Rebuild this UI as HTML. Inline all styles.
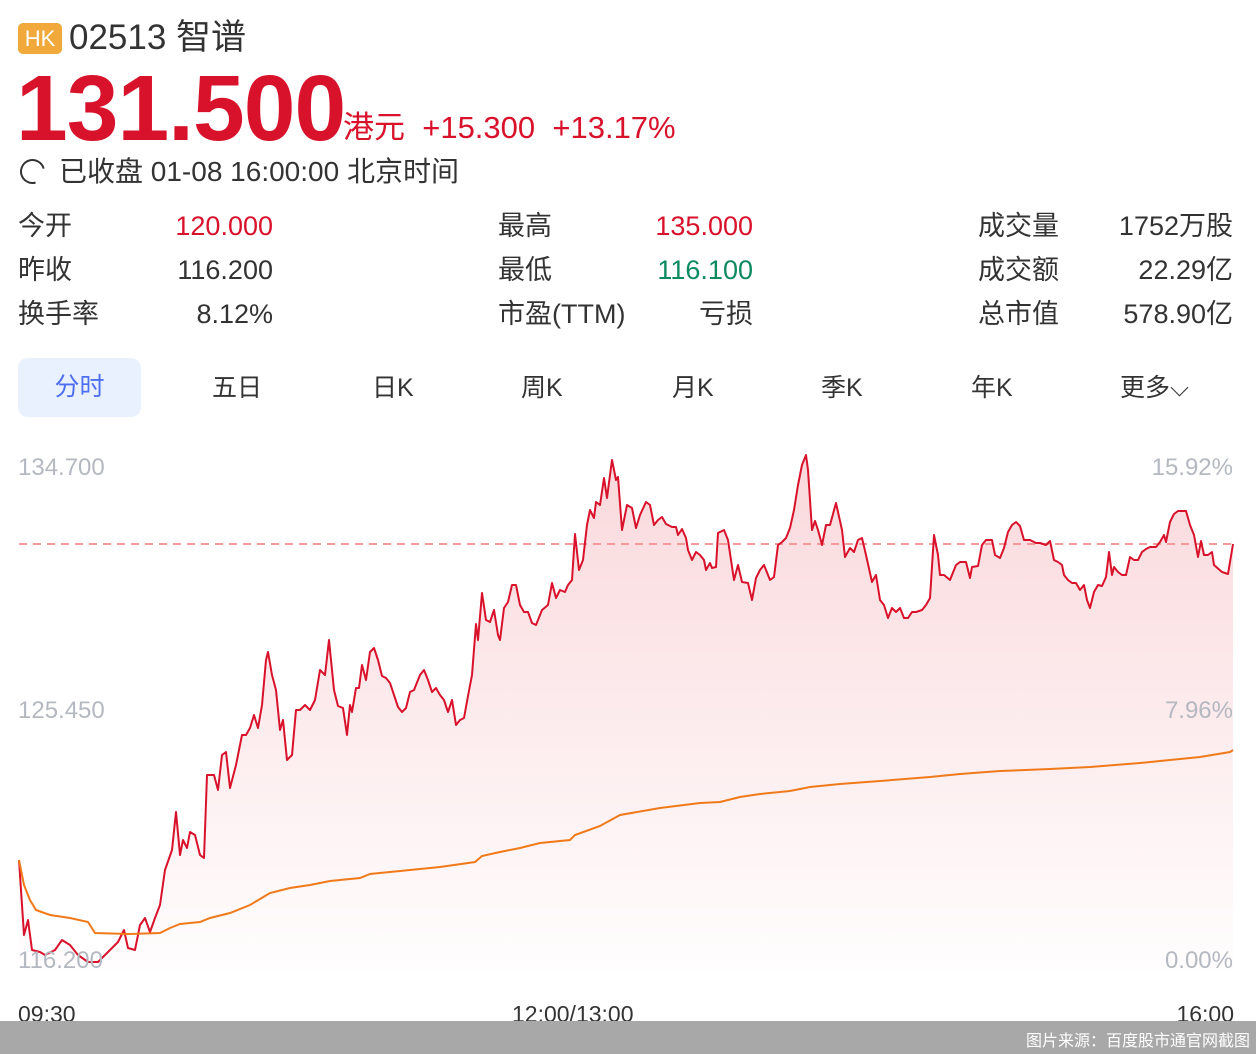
<!DOCTYPE html>
<html><head><meta charset="utf-8"><style>
*{margin:0;padding:0;box-sizing:border-box}
body{width:1256px;height:1054px;background:#fff;font-family:"Liberation Sans","Noto Sans CJK SC",sans-serif;position:relative;overflow:hidden;color:#333}
.a{position:absolute;white-space:nowrap}
.lab{font-size:27px;color:#333;line-height:32px}
.r{color:#d9122b}.g{color:#0e8a5f}
.gray{color:#b4b8c0;font-size:24px;line-height:28px}
</style></head><body>
<div class="a" style="left:18px;top:23px;width:44px;height:31px;background:#f0a93a;border-radius:5px;color:#fff;font-size:22px;line-height:31px;text-align:center">HK</div>
<div class="a" style="left:69px;top:16px;font-size:35px;line-height:44px;color:#333">02513 智谱</div>
<div class="a r" style="left:16px;top:58px;font-size:93px;line-height:100px;font-weight:bold;letter-spacing:-1px">131.500</div>
<div class="a r" style="left:343px;top:108px;font-size:31px;line-height:40px">港元 &nbsp;+15.300 &nbsp;+13.17%</div>
<div class="a" style="left:20px;top:159px;width:25px;height:25px;border:2.5px solid #333;border-radius:50%;border-right-color:transparent;transform:rotate(30deg)"></div>
<div class="a" style="left:59px;top:155px;font-size:28px;line-height:34px">已收盘 01-08 16:00:00 北京时间</div>

<div class="a lab" style="left:18px;top:210px">今开</div><div class="a lab r" style="right:983px;top:210px">120.000</div>
<div class="a lab" style="left:18px;top:254px">昨收</div><div class="a lab" style="right:983px;top:254px">116.200</div>
<div class="a lab" style="left:18px;top:298px">换手率</div><div class="a lab" style="right:983px;top:298px">8.12%</div>
<div class="a lab" style="left:498px;top:210px">最高</div><div class="a lab r" style="right:503px;top:210px">135.000</div>
<div class="a lab" style="left:498px;top:254px">最低</div><div class="a lab g" style="right:503px;top:254px">116.100</div>
<div class="a lab" style="left:498px;top:298px">市盈(TTM)</div><div class="a lab" style="right:503px;top:298px">亏损</div>
<div class="a lab" style="left:978px;top:210px">成交量</div><div class="a lab" style="right:23px;top:210px">1752万股</div>
<div class="a lab" style="left:978px;top:254px">成交额</div><div class="a lab" style="right:23px;top:254px">22.29亿</div>
<div class="a lab" style="left:978px;top:298px">总市值</div><div class="a lab" style="right:23px;top:298px">578.90亿</div>

<div class="a" style="left:18px;top:358px;width:123px;height:59px;background:#e9f1fe;border-radius:10px;color:#4e6ef2;font-size:25px;line-height:59px;text-align:center">分时</div>
<div class="a" style="left:212px;top:372px;font-size:25px;line-height:32px">五日</div>
<div class="a" style="left:372px;top:372px;font-size:25px;line-height:32px">日K</div>
<div class="a" style="left:521px;top:372px;font-size:25px;line-height:32px">周K</div>
<div class="a" style="left:672px;top:372px;font-size:25px;line-height:32px">月K</div>
<div class="a" style="left:821px;top:372px;font-size:25px;line-height:32px">季K</div>
<div class="a" style="left:971px;top:372px;font-size:25px;line-height:32px">年K</div>
<div class="a" style="left:1120px;top:372px;font-size:25px;line-height:32px">更多⌵</div>

<svg class="a" style="left:0;top:0" width="1256" height="1054">
<defs><linearGradient id="f" x1="0" y1="455" x2="0" y2="970" gradientUnits="userSpaceOnUse"><stop offset="0" stop-color="#e8505f" stop-opacity="0.22"/><stop offset="1" stop-color="#e8505f" stop-opacity="0.01"/></linearGradient></defs>
<polygon fill="url(#f)" points="19,970 19,860 24,935 28,920 32,950 40,952 45,955 55,950 62,940 70,945 78,955 88,962 98,962 108,952 118,942 124,930 128,948 135,950 140,925 145,918 150,932 155,918 160,905 165,870 172,850 176,812 180,855 183,840 187,848 190,832 195,835 200,855 204,858 207,775 214,775 218,790 222,755 226,752 230,788 236,765 242,735 246,735 250,728 254,715 258,728 262,705 266,660 268,652 272,675 276,690 280,730 283,720 287,760 292,755 296,710 300,710 305,705 310,710 315,700 320,670 325,675 329,640 334,690 338,706 343,708 347,735 350,705 352,712 356,688 359,688 362,665 366,680 370,652 374,648 378,660 382,676 386,678 390,683 394,695 398,707 402,712 406,708 410,692 414,690 420,675 424,670 428,680 432,692 436,688 440,695 444,700 448,712 452,700 456,725 460,720 464,718 468,696 472,675 476,624 478,640 482,593 486,620 490,622 494,610 498,635 500,640 504,608 508,602 512,585 516,585 520,605 524,612 528,612 532,623 536,625 542,610 548,605 552,583 556,598 560,590 565,592 568,585 572,580 575,534 579,570 583,560 587,525 590,510 594,518 596,502 600,505 604,478 607,498 610,475 612,460 616,480 618,477 622,530 627,505 632,508 636,528 640,515 646,502 650,505 654,525 658,520 662,517 666,524 672,527 676,527 678,535 682,529 686,538 688,550 692,560 696,552 700,555 704,560 706,570 710,563 712,568 716,567 718,533 724,530 728,540 734,580 738,565 742,582 748,583 752,600 756,578 760,570 764,565 770,580 774,577 778,545 782,542 786,538 790,528 794,510 798,485 802,465 806,455 808,470 812,530 815,521 818,530 822,545 826,525 830,525 836,503 842,530 845,557 850,548 854,552 858,540 862,538 866,555 872,582 876,575 880,600 884,605 888,618 892,608 896,612 900,608 904,618 908,618 912,612 916,612 922,610 926,605 930,598 934,535 938,555 940,575 944,575 950,580 956,565 960,562 966,562 970,578 972,567 978,566 982,545 986,540 992,540 995,555 1000,558 1004,548 1008,532 1012,525 1016,522 1020,526 1024,540 1030,540 1036,543 1040,543 1046,545 1050,541 1054,560 1058,562 1062,565 1064,575 1068,580 1072,583 1076,583 1080,590 1084,585 1087,600 1090,608 1094,592 1098,585 1102,586 1106,577 1109,552 1112,575 1114,567 1118,572 1122,575 1126,575 1130,557 1134,560 1138,560 1142,552 1146,549 1150,547 1156,547 1160,542 1164,535 1166,542 1170,522 1174,514 1178,511 1186,511 1190,525 1194,535 1198,557 1201,541 1204,555 1208,555 1212,552 1214,565 1222,572 1228,574 1233,544 1233,970"/>
<line x1="19" y1="544" x2="1233" y2="544" stroke="#f49a9a" stroke-width="2" stroke-dasharray="8,6"/>
<polyline fill="none" stroke="#d9122b" stroke-width="2" stroke-linejoin="round" points="19,860 24,935 28,920 32,950 40,952 45,955 55,950 62,940 70,945 78,955 88,962 98,962 108,952 118,942 124,930 128,948 135,950 140,925 145,918 150,932 155,918 160,905 165,870 172,850 176,812 180,855 183,840 187,848 190,832 195,835 200,855 204,858 207,775 214,775 218,790 222,755 226,752 230,788 236,765 242,735 246,735 250,728 254,715 258,728 262,705 266,660 268,652 272,675 276,690 280,730 283,720 287,760 292,755 296,710 300,710 305,705 310,710 315,700 320,670 325,675 329,640 334,690 338,706 343,708 347,735 350,705 352,712 356,688 359,688 362,665 366,680 370,652 374,648 378,660 382,676 386,678 390,683 394,695 398,707 402,712 406,708 410,692 414,690 420,675 424,670 428,680 432,692 436,688 440,695 444,700 448,712 452,700 456,725 460,720 464,718 468,696 472,675 476,624 478,640 482,593 486,620 490,622 494,610 498,635 500,640 504,608 508,602 512,585 516,585 520,605 524,612 528,612 532,623 536,625 542,610 548,605 552,583 556,598 560,590 565,592 568,585 572,580 575,534 579,570 583,560 587,525 590,510 594,518 596,502 600,505 604,478 607,498 610,475 612,460 616,480 618,477 622,530 627,505 632,508 636,528 640,515 646,502 650,505 654,525 658,520 662,517 666,524 672,527 676,527 678,535 682,529 686,538 688,550 692,560 696,552 700,555 704,560 706,570 710,563 712,568 716,567 718,533 724,530 728,540 734,580 738,565 742,582 748,583 752,600 756,578 760,570 764,565 770,580 774,577 778,545 782,542 786,538 790,528 794,510 798,485 802,465 806,455 808,470 812,530 815,521 818,530 822,545 826,525 830,525 836,503 842,530 845,557 850,548 854,552 858,540 862,538 866,555 872,582 876,575 880,600 884,605 888,618 892,608 896,612 900,608 904,618 908,618 912,612 916,612 922,610 926,605 930,598 934,535 938,555 940,575 944,575 950,580 956,565 960,562 966,562 970,578 972,567 978,566 982,545 986,540 992,540 995,555 1000,558 1004,548 1008,532 1012,525 1016,522 1020,526 1024,540 1030,540 1036,543 1040,543 1046,545 1050,541 1054,560 1058,562 1062,565 1064,575 1068,580 1072,583 1076,583 1080,590 1084,585 1087,600 1090,608 1094,592 1098,585 1102,586 1106,577 1109,552 1112,575 1114,567 1118,572 1122,575 1126,575 1130,557 1134,560 1138,560 1142,552 1146,549 1150,547 1156,547 1160,542 1164,535 1166,542 1170,522 1174,514 1178,511 1186,511 1190,525 1194,535 1198,557 1201,541 1204,555 1208,555 1212,552 1214,565 1222,572 1228,574 1233,544"/>
<polyline fill="none" stroke="#f07a1a" stroke-width="2" points="19,860 24,885 30,900 36,910 50,915 70,918 88,922 95,933 130,934 160,933 170,928 180,924 200,922 210,918 230,913 250,905 270,893 290,888 310,885 330,881 360,878 370,874 400,871 440,867 475,862 482,856 500,852 520,848 540,843 570,840 575,835 600,826 620,815 660,808 700,803 720,802 740,797 760,794 790,791 810,787 840,784 880,781 930,777 960,774 1000,771 1050,769 1090,767 1140,763 1160,761 1200,757 1230,752 1233,750"/>
</svg>
<div class="a gray" style="left:18px;top:454px">134.700</div>
<div class="a gray" style="left:18px;top:697px">125.450</div>
<div class="a gray" style="left:18px;top:947px">116.200</div>
<div class="a gray" style="right:23px;top:454px">15.92%</div>
<div class="a gray" style="right:23px;top:697px">7.96%</div>
<div class="a gray" style="right:23px;top:947px">0.00%</div>
<div class="a" style="left:18px;top:1000px;font-size:23px;line-height:28px">09:30</div>
<div class="a" style="left:512px;top:1000px;font-size:23px;line-height:28px">12:00/13:00</div>
<div class="a" style="right:22px;top:1000px;font-size:23px;line-height:28px">16:00</div>
<div class="a" style="left:0;top:1021px;width:1256px;height:33px;background:#a8a8a8"></div>
<div class="a" style="right:6px;top:1027px;font-size:16px;color:#fff">图片来源：百度股市通官网截图</div>
</body></html>
